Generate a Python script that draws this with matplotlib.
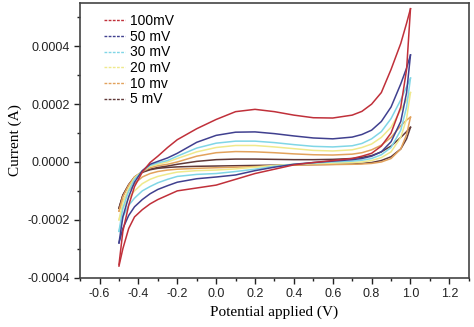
import matplotlib
matplotlib.use("Agg")
import matplotlib.pyplot as plt
from matplotlib.lines import Line2D
from matplotlib.ticker import MultipleLocator, FormatStrFormatter

# potential grid (V) shared by both sweep directions
potential = [-0.5, -0.48, -0.45, -0.42, -0.38, -0.34, -0.3, -0.25, -0.2, -0.1,
             0.0, 0.1, 0.2, 0.3, 0.4, 0.5, 0.6, 0.7, 0.75, 0.8, 0.85, 0.9,
             0.95, 0.98, 1.0]

scan_labels = ["100mV", "50 mV", "30 mV", "20 mV", "10 mv", "5 mV"]
scan_colors = ["#c0303a", "#40408f", "#80d6e6", "#efe98c", "#e2a25c", "#603838"]

# current (x1e-4 A), forward sweep -0.5 -> 1.0 V
fwd_100 = [-3.55, -2.4, -1.5, -0.85, -0.35, -0.02, 0.2, 0.5, 0.77, 1.15, 1.47, 1.74,
           1.82, 1.74, 1.62, 1.53, 1.52, 1.62, 1.75, 2.0, 2.4, 3.2, 4.1, 4.8, 5.3]
fwd_50 = [-2.8, -1.9, -1.2, -0.7, -0.3, -0.08, 0.02, 0.14, 0.3, 0.68, 0.92, 1.03,
          1.04, 0.98, 0.9, 0.83, 0.8, 0.86, 0.95, 1.1, 1.4, 1.9, 2.7, 3.25, 3.7]
fwd_30 = [-2.4, -1.6, -1.0, -0.6, -0.32, -0.12, -0.03, 0.05, 0.2, 0.48, 0.65, 0.72,
          0.72, 0.67, 0.6, 0.54, 0.52, 0.56, 0.64, 0.8, 1.05, 1.5, 2.15, 2.6, 2.9]
fwd_20 = [-2.0, -1.4, -0.9, -0.55, -0.32, -0.15, -0.08, 0.0, 0.12, 0.35, 0.5, 0.57,
          0.57, 0.52, 0.46, 0.4, 0.38, 0.42, 0.5, 0.62, 0.85, 1.2, 1.8, 2.15, 2.4]
fwd_10 = [-1.7, -1.2, -0.8, -0.52, -0.33, -0.2, -0.13, -0.08, 0.0, 0.2, 0.32, 0.36,
          0.35, 0.32, 0.28, 0.25, 0.24, 0.27, 0.32, 0.42, 0.58, 0.85, 1.25, 1.45, 1.55]
fwd_5 = [-1.6, -1.15, -0.78, -0.52, -0.34, -0.25, -0.19, -0.14, -0.08, 0.02, 0.08, 0.1,
         0.1, 0.09, 0.08, 0.08, 0.09, 0.12, 0.16, 0.22, 0.35, 0.55, 0.85, 1.05, 1.2]

# current (x1e-4 A), reverse sweep, listed on the same grid
rev_100 = [-3.6, -3.0, -2.3, -1.9, -1.65, -1.45, -1.3, -1.15, -1.0, -0.9, -0.8, -0.6,
           -0.4, -0.25, -0.1, -0.02, 0.05, 0.12, 0.2, 0.3, 0.55, 1.0, 1.9, 3.2, 5.3]
rev_50 = [-2.8, -2.3, -1.85, -1.55, -1.3, -1.1, -0.95, -0.82, -0.7, -0.58, -0.52, -0.45,
          -0.3, -0.18, -0.08, -0.02, 0.03, 0.08, 0.12, 0.2, 0.35, 0.7, 1.4, 2.4, 3.7]
rev_30 = [-2.4, -1.9, -1.5, -1.25, -1.0, -0.85, -0.72, -0.6, -0.5, -0.43, -0.4, -0.33,
          -0.25, -0.15, -0.08, -0.04, 0.0, 0.03, 0.06, 0.12, 0.25, 0.5, 1.1, 1.9, 2.9]
rev_20 = [-2.0, -1.6, -1.25, -1.0, -0.75, -0.6, -0.5, -0.42, -0.35, -0.3, -0.28, -0.24,
          -0.18, -0.12, -0.08, -0.06, -0.04, -0.02, 0.0, 0.05, 0.15, 0.35, 0.85, 1.5, 2.4]
rev_10 = [-1.7, -1.35, -1.0, -0.75, -0.52, -0.4, -0.33, -0.28, -0.25, -0.22, -0.2, -0.18,
          -0.16, -0.13, -0.11, -0.1, -0.09, -0.08, -0.07, -0.05, 0.0, 0.12, 0.45, 0.95, 1.55]
rev_5 = [-1.6, -1.15, -0.8, -0.55, -0.36, -0.27, -0.22, -0.19, -0.17, -0.15, -0.14, -0.13,
         -0.12, -0.11, -0.1, -0.09, -0.08, -0.07, -0.05, -0.02, 0.05, 0.18, 0.45, 0.8, 1.2]

forward = [fwd_100, fwd_50, fwd_30, fwd_20, fwd_10, fwd_5]
reverse = [rev_100, rev_50, rev_30, rev_20, rev_10, rev_5]

fig = plt.figure(figsize=(4.74, 3.27), dpi=100)
ax = fig.add_axes([0.169, 0.151, 0.820, 0.840])

# draw slow scans first so the big loops sit on top
for fw, rv, col in reversed(list(zip(forward, reverse, scan_colors))):
    ax.plot(potential, [v * 1e-4 for v in fw], color=col, lw=1.1,
            solid_joinstyle="round")
    ax.plot(potential, [v * 1e-4 for v in rv], color=col, lw=1.1,
            solid_joinstyle="round")

ax.set_xlim(-0.7, 1.3)
ax.set_ylim(-0.0004, 0.00055)
ax.xaxis.set_major_locator(MultipleLocator(0.2))
ax.xaxis.set_minor_locator(MultipleLocator(0.1))
ax.yaxis.set_major_locator(MultipleLocator(0.0002))
ax.yaxis.set_minor_locator(MultipleLocator(0.0001))
ax.xaxis.set_major_formatter(FormatStrFormatter("%.1f"))
ax.yaxis.set_major_formatter(FormatStrFormatter("%.4f"))
ax.tick_params(which="major", direction="out", length=4, width=1,
               labelsize=9, colors="#222222")
ax.tick_params(which="minor", direction="out", length=2.5, width=1, colors="#222222")
for lab in ax.get_xticklabels() + ax.get_yticklabels():
    lab.set_family("Liberation Sans")
for s in ax.spines.values():
    s.set_color("#444444")
    s.set_linewidth(1.2)

ax.set_xlabel("Potential applied (V)", family="Liberation Serif", fontsize=11, labelpad=4)
ax.set_ylabel("Current (A)", family="Liberation Serif", fontsize=11, labelpad=4)

handles = [Line2D([], [], color=c, lw=1.0, ls=(0, (2, 1))) for c in scan_colors]
ax.legend(handles, scan_labels, loc="upper left", frameon=False,
          bbox_to_anchor=(0.03, 1.005), handlelength=1.5, handletextpad=0.35,
          labelspacing=0.12, prop={"family": "Liberation Sans", "size": 10})

fig.savefig("out.png", dpi=100)
